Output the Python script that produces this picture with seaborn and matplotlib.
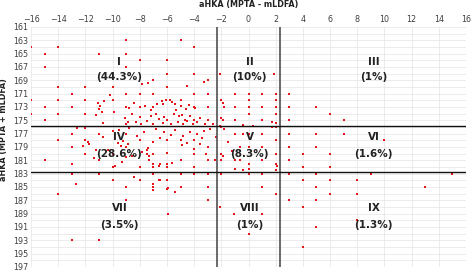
import numpy as np
import pandas as pd
import seaborn as sns
import matplotlib.pyplot as plt

# points, grouped by zone (x = MPTA - mLDFA, y = MPTA + mLDFA)
zone_I = [(-16, 164), (-16, 172), (-16, 174), (-15, 165), (-15, 167), (-15, 173), (-15, 175),
          (-14, 164), (-14, 170), (-14, 172), (-14, 174), (-13, 171), (-13, 173),
          (-12, 170), (-12, 172), (-12, 174), (-11, 165), (-11.1, 172.4), (-10.9, 172.8),
          (-11, 173.3), (-10.8, 173.8), (-11.2, 174.2), (-10.6, 172.1), (-10.7, 175.4),
          (-10, 170), (-10.2, 171.2), (-10, 172), (-9.9, 173.7), (-9, 163), (-9, 165), (-9, 167),
          (-9, 171), (-9, 173), (-8.8, 173.1), (-9.1, 174.6), (-8.9, 175.2), (-9, 175.6),
          (-8, 166), (-7.8, 169.6), (-8, 171), (-8, 173), (-8, 174.5), (-8.3, 175.3),
          (-7.4, 169.4), (-7.05, 169), (-7, 171), (-7, 173), (-7.2, 174.3), (-7.5, 175.1),
          (-6, 166), (-6, 168), (-6, 170), (-6.4, 172.1), (-6.1, 172), (-5.8, 171.9), (-5.6, 172.3),
          (-6.3, 172.5), (-6.7, 172.6), (-7.6, 172.8), (-7.2, 173.5), (-6.8, 174), (-6.6, 174.8),
          (-6.2, 174.5), (-6, 175), (-5.5, 174), (-5.3, 173.5), (-5.1, 174.4), (-4.9, 174.2),
          (-4.7, 174.9), (-4.5, 175.1), (-4.3, 174.4), (-5.2, 175.3), (-5.7, 175.5), (-6.3, 175.4),
          (-4.8, 175.5), (-4.1, 175.6), (-3.8, 175.2), (-3.6, 174.7), (-5, 172.9), (-5.4, 172.6),
          (-4.6, 173.3), (-4.4, 172.7), (-3.9, 173.1), (-5, 163), (-4, 164), (-4, 168), (-5, 172),
          (-4.55, 169.8), (-4, 171), (-4, 173), (-4, 175), (-3.3, 169.2), (-3, 169), (-3, 171),
          (-3, 173), (-3, 175), (-3.2, 175.5), (-2.6, 175.6), (-7, 175.6), (-7.9, 175.6),
          (-8.4, 172.4), (-8.6, 174.1)]
zone_II = [(-2.1, 168), (-2, 172), (-1.9, 172.4), (-1.8, 173), (-2, 174.6), (-1.9, 175), (-1, 171),
           (-1, 173), (-1, 175), (0, 171), (0, 172), (0, 173), (0, 174), (1, 171), (1, 173), (1, 175),
           (1.9, 168), (2, 171), (2, 172), (2, 173), (2, 174), (1.7, 175.3), (2, 175.4),
           (-2.1, 175.8), (-0.4, 175.7), (0.3, 175.9), (2, 176), (1.7, 176)]
zone_III = [(3, 171), (3, 173), (5, 173), (6, 174), (7, 175), (3, 175)]
zone_IV = [(-14, 178), (-13, 177), (-13, 179), (-15, 181), (-12, 178), (-12.2, 178.9), (-12, 180),
           (-11.8, 178.3), (-11.7, 178.6), (-11, 177), (-11.2, 179.5), (-11, 181), (-10.7, 177.5),
           (-10.3, 179.5), (-10, 180), (-10, 182), (-9.6, 178.4), (-9.4, 178.8), (-9.2, 178.1),
           (-9, 179), (-8.9, 178.5), (-9.3, 181.2), (-9, 180.5), (-9, 177), (-9.5, 176.5),
           (-8.8, 176.2), (-8, 178), (-8, 182), (-7.5, 179.5), (-7.4, 179.1), (-7, 178.3),
           (-7.5, 180.1), (-7.3, 180.3), (-7.3, 181), (-7, 180), (-7, 181.5), (-7, 182),
           (-6.6, 181.8), (-6.5, 181.6), (-6, 178), (-6, 179.9), (-6, 182), (-6, 181.6),
           (-5.6, 181.4), (-5, 181), (-5, 178), (-4.9, 178.7), (-4.8, 177.3), (-4.55, 178.4),
           (-4, 178), (-4, 179.3), (-4, 180), (-4, 182), (-3.6, 178.6), (-3.8, 177.1),
           (-3.1, 180.1), (-3, 179), (-3, 181), (-2.5, 181), (-2.4, 177.5), (-3.3, 176.6),
           (-2.8, 176.3), (-5.4, 176.4), (-6.2, 176.7), (-6.8, 176.3), (-7.7, 176.8), (-8.2, 177.3),
           (-10, 176.6), (-12, 176.2), (-12.6, 176.1), (-6.5, 177.6), (-5.7, 177.2), (-4.3, 176.8),
           (-3.4, 177.7), (-7.8, 179.7), (-8.6, 180.4), (-9.8, 181.8), (-11.4, 180.6), (-13, 181.5)]
zone_V = [(-2, 176), (-1.8, 176.3), (-1, 177), (-0.4, 177), (0, 177), (1, 177), (2, 178), (1, 179),
          (0, 179), (-0.6, 179), (2, 180), (-2, 180), (-1.9, 180.4), (-2, 181), (-1, 181),
          (-0.6, 181), (0, 181.6), (1, 181), (2, 181.5), (2.1, 181.8), (0, 182.3), (-0.4, 182.5),
          (-1, 182.3), (2, 182.5), (-1.5, 178.2), (-1.2, 179.6)]
zone_VI = [(3, 177), (5, 177), (7, 177), (3, 179), (5, 179), (4, 180), (6, 180), (3, 181), (4, 182),
           (6, 182), (10, 178)]
zone_VII = [(-14, 186), (-13, 183), (-12.7, 184.5), (-13, 193), (-11, 193), (-11, 183), (-10, 184),
            (-9, 185), (-9, 187), (-8.4, 183.5), (-8, 184), (-7, 183), (-7, 184.5), (-7, 185),
            (-7, 185.5), (-6.6, 184), (-6.5, 184), (-6, 184), (-6, 185.3), (-5.9, 185.1),
            (-5.4, 185.7), (-5, 185), (-5, 183), (-4, 183), (-3, 183), (-3, 185), (-3, 187),
            (-5.9, 189)]
zone_VIII = [(-2.1, 188), (1, 185), (2, 186), (1, 189), (0, 192), (-1.1, 189), (1, 183), (0, 183),
             (-2, 183)]
zone_IX = [(3, 183), (5, 183), (9, 183), (15, 183), (4, 184), (6, 184), (8, 184), (5, 185), (13, 185),
           (6, 186), (8, 186), (3, 187), (5, 187), (4, 188), (8, 190), (5, 191), (4, 194)]

zone_names = ["I", "II", "III", "IV", "V", "VI", "VII", "VIII", "IX"]
zone_pct = ["44.3%", "10%", "1%", "28.6%", "8.3%", "1.6%", "3.5%", "1%", "1.3%"]

# cut-offs of the zones
x_cuts = [-2.3, 2.3]
y_cuts = [175.8, 182.8]

all_pts = (zone_I + zone_II + zone_III + zone_IV + zone_V + zone_VI
           + zone_VII + zone_VIII + zone_IX)
df = pd.DataFrame(all_pts, columns=["diff", "sum"])

sns.set_style("whitegrid")
plt.rcParams['font.family'] = ['DejaVu Sans']

fig = plt.figure(figsize=(4.74, 2.72), dpi=100)
ax = fig.add_axes([31 / 474, 5 / 272, 435 / 474, 240 / 272])

sns.scatterplot(data=df, x="diff", y="sum", color="#e8141c", s=4, marker="s",
                linewidth=0, ax=ax, zorder=3)

ax.set_xlim(-16, 16)
ax.set_ylim(197, 161)
ax.set_xticks(np.arange(-16, 17, 2))
ax.set_yticks(np.arange(161, 198, 2))
ax.set_yticks(np.arange(162, 197, 2), minor=True)
ax.xaxis.tick_top()
ax.tick_params(axis="both", which="both", length=0, labelsize=5.8, colors="#404040", pad=2)
ax.grid(True, which="both", color="#e4e4e4", lw=0.5)
ax.grid(False, axis="x", which="minor")
for s in ax.spines.values():
    s.set_visible(False)
ax.set_xlabel("")
ax.set_ylabel("")

for xc in x_cuts:
    ax.axvline(xc, color="#505050", lw=1.2, zorder=4)
for yc in y_cuts:
    ax.axhline(yc, color="#111111", lw=1.0, zorder=4)

# label positions for the 3x3 grid
col_x = [-9.5, 0.1, 9.2]
row_y = [(166.2, 168.5), (177.5, 180.0), (188.2, 190.7)]
for i, (name, pct) in enumerate(zip(zone_names, zone_pct)):
    cx = col_x[i % 3]
    ry1, ry2 = row_y[i // 3]
    ax.text(cx, ry1, name, ha="center", va="center", fontsize=7.5, fontweight="bold",
            color="#222222", zorder=5)
    ax.text(cx, ry2, f"({pct})", ha="center", va="center", fontsize=7.5, fontweight="bold",
            color="#222222", zorder=5)

fig.text(249 / 474, 1 - 4 / 272, "aHKA (MPTA - mLDFA)", ha="center", va="center",
         fontsize=5.8, fontweight="bold", color="#222222")
fig.text(3.5 / 474, 1 - 130 / 272, "aHKA (MPTA + mLDFA)", ha="center", va="center",
         rotation=90, fontsize=5.8, fontweight="bold", color="#222222")

fig.savefig("out.png", dpi=100)
